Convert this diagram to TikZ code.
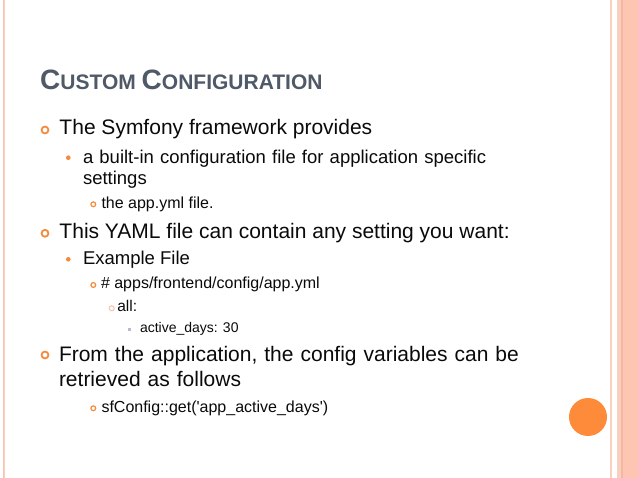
\documentclass[tikz,border=0pt]{standalone}
\usepackage{fontspec}
\setmainfont{Liberation Sans}
\definecolor{titlegray}{HTML}{4F5968}
\definecolor{orng}{HTML}{F58A3C}
\definecolor{ballorng}{HTML}{FD8B3A}
\definecolor{pinkline}{HTML}{FBCFBF}
\definecolor{salmon}{HTML}{FDC6B3}
\definecolor{salmondark}{HTML}{F6B7A0}
\definecolor{lightpink}{HTML}{F8C5B0}
\definecolor{bluegray}{HTML}{B4BCDA}
\definecolor{textblack}{HTML}{0A0A0A}
\tikzset{
  txt/.style={anchor=base west, inner sep=0pt, outer sep=0pt, text=textblack},
  lone/.style={txt, font=\fontsize{21}{25}\selectfont},
  ltwo/.style={txt, font=\fontsize{18.5}{21.7}\selectfont},
  lthree/.style={txt, font=\fontsize{16}{19}\selectfont},
  lfour/.style={txt, font=\fontsize{15.5}{18}\selectfont},
  lfive/.style={txt, font=\fontsize{14}{17}\selectfont},
  bone/.style={circle, draw=orng, line width=1.8pt, minimum size=6.9pt, inner sep=0pt},
  btwo/.style={circle, fill=orng, minimum size=4.6pt, inner sep=0pt},
  bthree/.style={circle, draw=orng, line width=1.2pt, minimum size=4.8pt, inner sep=0pt},
  bfour/.style={circle, draw=lightpink, line width=1.1pt, minimum size=5pt, inner sep=0pt},
  bfive/.style={rectangle, fill=bluegray, minimum size=2.8pt, inner sep=0pt},
}
\begin{document}
\begin{tikzpicture}[x=1pt,y=-1pt]
\useasboundingbox (0,0) rectangle (638,478);
\fill[white] (0,0) rectangle (638,478);
% left border lines
\fill[salmondark!80] (2.8,0) rectangle (3.6,478);
\fill[pinkline] (4.0,0) rectangle (4.8,478);
% right border
\fill[pinkline] (609.8,0) rectangle (612.3,478);
\fill[pinkline] (616.5,0) rectangle (620.8,478);
\fill[salmondark] (620.8,0) rectangle (622.8,478);
\fill[salmon] (622.8,0) rectangle (638,478);
% orange ball
\node[circle, fill=ballorng, minimum size=38pt, inner sep=0pt] (ball) at (588,417) {};
% title
\node[anchor=base west, inner sep=0pt, text=titlegray, font=\bfseries\fontsize{21}{24}\selectfont] (title) at (40,90)
  {{\fontsize{28}{30}\selectfont C}USTOM {\fontsize{28}{30}\selectfont C}ONFIGURATION};
% level 1 a
\node[bone] (b1a) at (45,130) {};
\node[lone] (t1a) at (59.5,134.5) {The Symfony framework provides};
\node[btwo] (b2a) at (68.3,157.7) {};
\node[ltwo, text width=420pt, align=left] (t2a) at (83,163.3) {a built-in configuration file for application specific\\settings};
\node[bthree] (b3a) at (93.3,204.3) {};
\node[lthree] (t3a) at (101.5,208.5) {the app.yml file.};
% level 1 b
\node[bone] (b1b) at (45,233.3) {};
\node[lone] (t1b) at (59.5,238.5) {This YAML file can contain any setting you want:};
\node[btwo] (b2b) at (68.3,259.3) {};
\node[ltwo] (t2b) at (83,265) {Example File};
\node[bthree] (b3b) at (93.3,285) {};
\node[lthree] (t3b) at (101,288.5) {\# apps/frontend/config/app.yml};
\node[bfour] (b4) at (111.7,308.3) {};
\node[lfour] (t4) at (117.3,311.7) {all:};
\node[bfive] (b5) at (129.3,329.3) {};
\node[lfive] (t5) at (140,332.5) {active\_days: 30};
% level 1 c
\node[bone] (b1c) at (45,355) {};
\node[lone, text width=480pt, align=left] (t1c) at (59,361.7) {From the application, the config variables can be\\retrieved as follows};
\node[bthree] (b3c) at (93.3,408.3) {};
\node[lthree] (t3c) at (101.5,412.7) {sfConfig::get(\textquotesingle app\_active\_days\textquotesingle)};
\end{tikzpicture}
\end{document}
